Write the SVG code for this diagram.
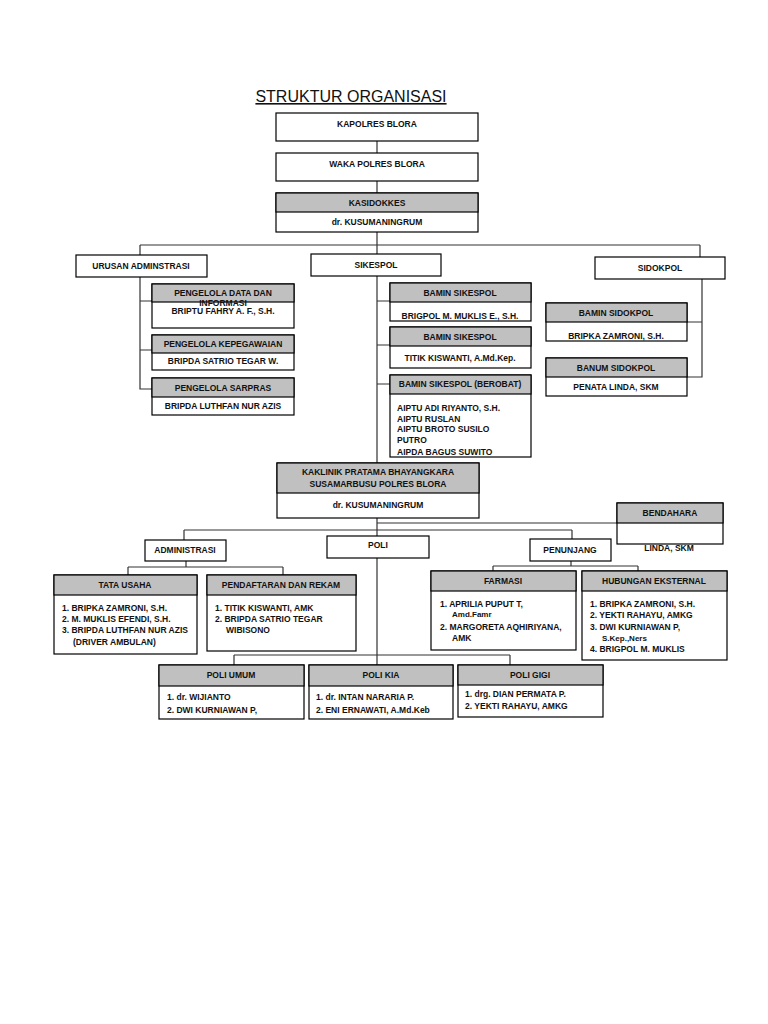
<svg xmlns="http://www.w3.org/2000/svg" width="768" height="1024" viewBox="0 0 768 1024">
<style>
rect{fill:#fff;stroke:#000;stroke-width:1.2}
rect.h{fill:#c0c0c0}
text{font-family:"Liberation Sans",Arial,sans-serif;font-size:8.5px;font-weight:bold;fill:#111}
.c{text-anchor:middle}
.s{font-size:8px}
#conn path{fill:none;stroke:#333;stroke-width:1.2}
</style>
<rect x="0" y="0" width="768" height="1024" style="fill:#fff;stroke:none"/>
<text x="351" y="102" class="c" style="font-size:16px;font-weight:normal;text-decoration:underline">STRUKTUR ORGANISASI</text>
<g id="conn">
<path d="M377 141V153M377 181V193M377 232V665M140 245H700M140 245V255M700 245V257M140 277V389H152M140 301H152M140 350H152M377 301H390M377 345H390M377 384H390M702 279V377H687M702 322H687M377 523H617M184 530H572M184 530V540M572 530V539M186 561V567M128 567H283M128 567V575M283 567V575M571 561V566M493 566H638M493 566V571M638 566V571M234 655H510M234 655V665M510 655V665"/>
</g>
<g id="kapolres"><rect x="276" y="113" width="202" height="28"/><text x="377" y="127" class="c">KAPOLRES BLORA</text></g>
<g id="waka"><rect x="276" y="153" width="202" height="28"/><text x="377" y="167" class="c">WAKA POLRES BLORA</text></g>
<g id="kasidokkes"><rect x="276" y="193" width="202" height="39"/><rect class="h" x="276" y="193" width="202" height="19"/><text x="377" y="206" class="c">KASIDOKKES</text><text x="377" y="225" class="c">dr. KUSUMANINGRUM</text></g>
<g id="urusan"><rect x="76" y="255" width="131" height="22"/><text x="141" y="269" class="c">URUSAN ADMINSTRASI</text></g>
<g id="sikespol"><rect x="311" y="254" width="130" height="22"/><text x="376" y="268" class="c">SIKESPOL</text></g>
<g id="sidokpol"><rect x="595" y="257" width="130" height="22"/><text x="660" y="271" class="c">SIDOKPOL</text></g>
<g id="pdata"><rect x="152" y="284" width="142" height="44"/><rect class="h" x="152" y="284" width="142" height="18"/><text x="223" y="296" class="c">PENGELOLA DATA DAN</text><text x="223" y="306" class="c">INFORMASI</text><text x="223" y="314" class="c">BRIPTU FAHRY A. F., S.H.</text></g>
<g id="pkepeg"><rect x="152" y="335" width="142" height="35"/><rect class="h" x="152" y="335" width="142" height="18"/><text x="223" y="347" class="c">PENGELOLA KEPEGAWAIAN</text><text x="223" y="364" class="c">BRIPDA SATRIO TEGAR W.</text></g>
<g id="psarpras"><rect x="152" y="378" width="142" height="37"/><rect class="h" x="152" y="378" width="142" height="19"/><text x="223" y="391" class="c">PENGELOLA SARPRAS</text><text x="223" y="409" class="c">BRIPDA LUTHFAN NUR AZIS</text></g>
<g id="bamin1"><rect x="390" y="283" width="141" height="38"/><rect class="h" x="390" y="283" width="141" height="19"/><text x="460" y="296" class="c">BAMIN SIKESPOL</text><text x="460" y="319" class="c">BRIGPOL M. MUKLIS E., S.H.</text></g>
<g id="bamin2"><rect x="390" y="327" width="141" height="41"/><rect class="h" x="390" y="327" width="141" height="19"/><text x="460" y="340" class="c">BAMIN SIKESPOL</text><text x="460" y="361" class="c">TITIK KISWANTI, A.Md.Kep.</text></g>
<g id="bamin3"><rect x="390" y="375" width="141" height="82"/><rect class="h" x="390" y="375" width="141" height="19"/><text x="460" y="387" class="c">BAMIN SIKESPOL (BEROBAT)</text><text x="397" y="411">AIPTU ADI RIYANTO, S.H.</text><text x="397" y="422">AIPTU RUSLAN</text><text x="397" y="432">AIPTU BROTO SUSILO</text><text x="397" y="443">PUTRO</text><text x="397" y="455">AIPDA BAGUS SUWITO</text></g>
<g id="bsidok"><rect x="546" y="303" width="141" height="38"/><rect class="h" x="546" y="303" width="141" height="19"/><text x="616" y="316" class="c">BAMIN SIDOKPOL</text><text x="616" y="339" class="c">BRIPKA ZAMRONI, S.H.</text></g>
<g id="banum"><rect x="546" y="358" width="141" height="38"/><rect class="h" x="546" y="358" width="141" height="19"/><text x="616" y="371" class="c">BANUM SIDOKPOL</text><text x="616" y="390" class="c">PENATA LINDA, SKM</text></g>
<g id="kaklinik"><rect x="277" y="463" width="202" height="55"/><rect class="h" x="277" y="463" width="202" height="30"/><text x="378" y="475" class="c">KAKLINIK PRATAMA BHAYANGKARA</text><text x="378" y="487" class="c">SUSAMARBUSU POLRES BLORA</text><text x="378" y="508" class="c">dr. KUSUMANINGRUM</text></g>
<g id="bendahara"><rect x="617" y="503" width="106" height="41"/><rect class="h" x="617" y="503" width="106" height="20"/><text x="670" y="516" class="c">BENDAHARA</text><text x="669" y="551" class="c">LINDA, SKM</text></g>
<g id="administrasi"><rect x="145" y="540" width="81" height="21"/><text x="185" y="553" class="c">ADMINISTRASI</text></g>
<g id="poli"><rect x="327" y="536" width="102" height="22"/><text x="378" y="548" class="c">POLI</text></g>
<g id="penunjang"><rect x="530" y="539" width="81" height="22"/><text x="570" y="553" class="c">PENUNJANG</text></g>
<g id="tatausaha"><rect x="54" y="575" width="143" height="79"/><rect class="h" x="54" y="575" width="143" height="20"/><text x="125" y="588" class="c">TATA USAHA</text><text x="62" y="611">1.  BRIPKA ZAMRONI, S.H.</text><text x="62" y="622">2.  M. MUKLIS EFENDI, S.H.</text><text x="62" y="633">3.  BRIPDA LUTHFAN NUR AZIS</text><text x="73" y="645">(DRIVER AMBULAN)</text></g>
<g id="pendaftaran"><rect x="207" y="575" width="149" height="76"/><rect class="h" x="207" y="575" width="149" height="20"/><text x="281" y="588" class="c">PENDAFTARAN DAN REKAM</text><text x="215" y="611">1.  TITIK KISWANTI, AMK</text><text x="215" y="622">2.  BRIPDA SATRIO TEGAR</text><text x="226" y="633">WIBISONO</text></g>
<g id="farmasi"><rect x="431" y="571" width="145" height="79"/><rect class="h" x="431" y="571" width="145" height="20"/><text x="503" y="584" class="c">FARMASI</text><text x="440" y="607">1.  APRILIA PUPUT T,</text><text x="452" y="617" class="s">Amd.Famr</text><text x="440" y="630">2.  MARGORETA AQHIRIYANA,</text><text x="452" y="641">AMK</text></g>
<g id="hubungan"><rect x="582" y="571" width="145" height="89"/><rect class="h" x="582" y="571" width="145" height="20"/><text x="654" y="584" class="c">HUBUNGAN EKSTERNAL</text><text x="590" y="607">1.  BRIPKA ZAMRONI, S.H.</text><text x="590" y="618">2.  YEKTI RAHAYU, AMKG</text><text x="590" y="630">3.  DWI KURNIAWAN P,</text><text x="602" y="641" class="s">S.Kep.,Ners</text><text x="590" y="652">4.  BRIGPOL M. MUKLIS</text></g>
<g id="poliumum"><rect x="159" y="665" width="145" height="54"/><rect class="h" x="159" y="665" width="145" height="21"/><text x="231" y="678" class="c">POLI UMUM</text><text x="167" y="700">1.  dr. WIJIANTO</text><text x="167" y="713">2.  DWI KURNIAWAN P,</text></g>
<g id="polikia"><rect x="309" y="665" width="144" height="54"/><rect class="h" x="309" y="665" width="144" height="21"/><text x="381" y="678" class="c">POLI KIA</text><text x="316" y="700">1.  dr. INTAN NARARIA P.</text><text x="316" y="713">2.  ENI ERNAWATI, A.Md.Keb</text></g>
<g id="poligigi"><rect x="458" y="665" width="145" height="52"/><rect class="h" x="458" y="665" width="145" height="20"/><text x="530" y="678" class="c">POLI GIGI</text><text x="465" y="697">1.  drg. DIAN PERMATA P.</text><text x="465" y="709">2.  YEKTI RAHAYU, AMKG</text></g>
</svg>
